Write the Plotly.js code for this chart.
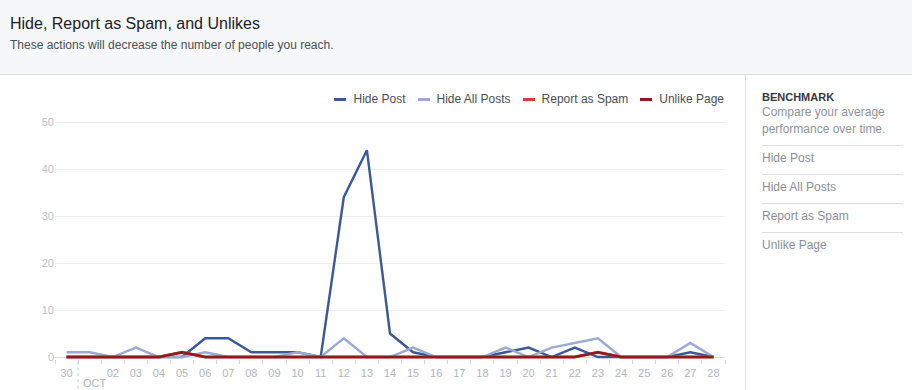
<!DOCTYPE html>
<html>
<head>
<meta charset="utf-8">
<script src="https://cdn.plot.ly/plotly-3.0.1.min.js"></script>
<style>
  html, body { margin:0; padding:0; }
  body { width:912px; height:390px; overflow:hidden; background:#ffffff; position:relative;
         font-family:"Liberation Sans", Helvetica, Arial, sans-serif; }
  .abs { position:absolute; white-space:nowrap; }
  #header { left:0; top:0; width:912px; height:74px; background:#f6f7f9; border-bottom:1px solid #dddfe2; }
  #title { left:10px; top:14px; font-size:16px; line-height:20px; color:#1d2129; }
  #subtitle { left:10px; top:37px; font-size:12px; line-height:16px; color:#4b4f56; }
  #vsep { left:745px; top:75px; width:1px; height:315px; background:#dddfe2; }
  #chart { left:0; top:75px; width:745px; height:315px; }
  #legend { right:188px; top:91px; font-size:12px; line-height:16px; color:#4b4f56; display:flex; align-items:center; }
  .lg-item { display:flex; align-items:center; margin-left:12px; }
  .lg-item:first-child { margin-left:0; }
  .sw { width:12px; height:3px; margin-right:7px; }
  #bench { left:762px; top:90px; font-size:11px; line-height:14px; font-weight:bold; color:#373a3f; }
  #benchdesc { left:762px; top:103.5px; font-size:12px; line-height:17px; color:#90949c; }
  .hsep { left:762px; width:141px; height:1px; background:#dddfe2; }
  .side-item { left:762px; font-size:12px; line-height:16px; color:#8a8f97; }
  #oct { left:83px; top:378px; font-size:11px; line-height:11px; color:#b0b5bd; }
</style>
</head>
<body>
<div id="header" class="abs"></div>
<div id="title" class="abs">Hide, Report as Spam, and Unlikes</div>
<div id="subtitle" class="abs">These actions will decrease the number of people you reach.</div>
<div id="chart" class="abs"></div>
<div id="vsep" class="abs"></div>
<div id="legend" class="abs"></div>
<div id="bench" class="abs">BENCHMARK</div>
<div id="benchdesc" class="abs">Compare your average<br>performance over time.</div>
<div id="oct" class="abs">OCT</div>
<div id="sidebar"></div>
<script>
// ---- data ----
const dayLabels = ['30','01','02','03','04','05','06','07','08','09','10','11','12','13','14',
                   '15','16','17','18','19','20','21','22','23','24','25','26','27','28'];
const tickLabels = ['30','','02','03','04','05','06','07','08','09','10','11','12','13','14',
                    '15','16','17','18','19','20','21','22','23','24','25','26','27','28'];
const hidePost     = [0,0,0,0,0,0,4,4,1,1,1,0,34,44,5,1,0,0,0,1,2,0,2,0,0,0,0,1,0];
const hideAllPosts = [1,1,0,2,0,0,1,0,0,0,1,0,4,0,0,2,0,0,0,2,0,2,3,4,0,0,0,3,0];
const reportSpam   = [0,0,0,0,0,1,0,0,0,0,0,0,0,0,0,0,0,0,0,0,0,0,0,1,0,0,0,0,0];
const unlikePage   = [0,0,0,0,0,1,0,0,0,0,0,0,0,0,0,0,0,0,0,0,0,0,0,1,0,0,0,0,0];
const seriesNames  = ['Hide Post','Hide All Posts','Report as Spam','Unlike Page'];
const seriesColors = ['#3b5998','#9aaad3','#dd3a3f','#8b1d1f'];
const yTicks = [0,10,20,30,40,50];
const sideItems = ['Hide Post','Hide All Posts','Report as Spam','Unlike Page'];

// ---- legend (HTML) ----
const lg = document.getElementById('legend');
seriesNames.forEach((n,i) => {
  const it = document.createElement('div'); it.className = 'lg-item';
  const sw = document.createElement('div'); sw.className = 'sw'; sw.style.background = seriesColors[i];
  const tx = document.createElement('span'); tx.textContent = n;
  it.appendChild(sw); it.appendChild(tx); lg.appendChild(it);
});

// ---- sidebar ----
const sb = document.getElementById('sidebar');
sideItems.forEach((n,i) => {
  const sep = document.createElement('div'); sep.className = 'abs hsep'; sep.style.top = (145 + 29*i) + 'px';
  const t = document.createElement('div'); t.className = 'abs side-item'; t.style.top = (149.5 + 29*i) + 'px';
  t.textContent = n;
  sb.appendChild(sep); sb.appendChild(t);
});

// ---- chart ----
const values = [hidePost, hideAllPosts, reportSpam, unlikePage];
const widths = [2.4, 2.4, 3.2, 2.6];
const traces = values.map((v,i) => ({
  type:'scatter', mode:'lines', x: dayLabels, y: v, name: seriesNames[i],
  line:{color: seriesColors[i], width: widths[i]}, hoverinfo:'skip'
}));

const layout = {
  width:745, height:315,
  margin:{l:55, r:20, t:45, b:31, pad:0},
  paper_bgcolor:'rgba(0,0,0,0)', plot_bgcolor:'rgba(0,0,0,0)',
  showlegend:false,
  font:{family:'"Liberation Sans", Helvetica, Arial, sans-serif'},
  xaxis:{type:'category', categoryorder:'array', categoryarray: dayLabels,
         range:[-0.5, 28.5], tickson:'boundaries', ticks:'outside', ticklen:4, tickwidth:1,
         tickcolor:'#d3d6db', tickmode:'array', tickvals: dayLabels, ticktext: tickLabels,
         ticklabelstandoff:6,
         showgrid:false, zeroline:false, showline:false,
         tickfont:{size:11, color:'#b0b5bd'}, fixedrange:true},
  yaxis:{range:[-0.426, 50.43], tickmode:'array', tickvals:yTicks, ticks:'',
         showgrid:true, gridcolor:'#eceef1', gridwidth:1,
         zeroline:true, zerolinecolor:'#d8dbe0', zerolinewidth:1, showline:false,
         tickfont:{size:11, color:'#bec3c9'}, fixedrange:true},
  shapes:[{type:'line', xref:'x', yref:'paper', x0:0.5, x1:0.5, y0:-0.01, y1:-0.16,
           line:{color:'#c4c8ce', width:1, dash:'dot'}}]
};

Plotly.newPlot('chart', traces, layout, {staticPlot:true, displayModeBar:false});
</script>
</body>
</html>
